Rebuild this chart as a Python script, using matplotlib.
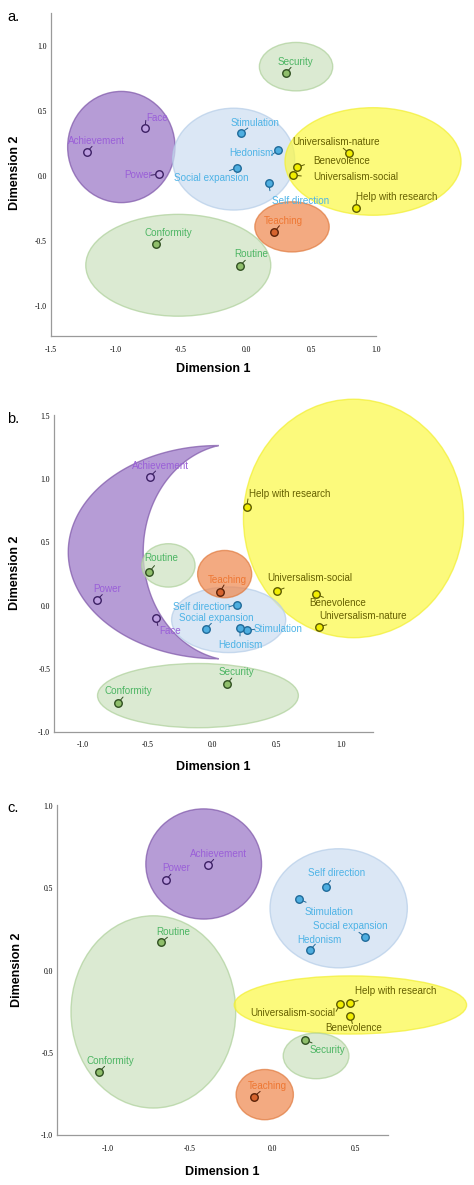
import numpy as np
import matplotlib.pyplot as plt
from matplotlib.patches import Ellipse, Polygon
from matplotlib.ticker import FormatStrFormatter, MultipleLocator

plt.rcParams['font.family'] = ['Liberation Sans', 'DejaVu Sans']
plt.rcParams['axes.unicode_minus'] = False

# group colours: region face, region edge, marker face, marker edge, label
GROUPS = {
    'purple': ('#9772c5', '#7d55a8', '#bea0e1', '#3b1f63', '#9a5fd8'),
    'blue':   ('#cddef1', '#b5cde8', '#4eaee0', '#1f6a99', '#4db3e6'),
    'yellow': ('#fbf845', '#f2ef30', '#f2ee00', '#5c5a00', '#666000'),
    'green':  ('#cde2bf', '#add09a', '#8fbe6b', '#2f4f20', '#4cb563'),
    'orange': ('#ee864c', '#e07a3e', '#d6642e', '#5a2208', '#ee7733'),
}

# ---- panel a ----
a_names = ['Security', 'Face', 'Achievement', 'Power', 'Stimulation', 'Hedonism',
           'Social expansion', 'Self direction', 'Universalism-nature', 'Benevolence',
           'Universalism-social', 'Help with research', 'Teaching', 'Conformity', 'Routine']
a_x = [0.305, -0.777, -1.226, -0.672, -0.036, 0.244, -0.069, 0.174, 0.795, 0.392,
       0.364, 0.849, 0.218, -0.690, -0.049]
a_y = [0.787, 0.364, 0.180, 0.013, 0.331, 0.195, 0.062, -0.054, 0.172, 0.064,
       0.005, -0.249, -0.431, -0.523, -0.692]
a_group = ['green', 'purple', 'purple', 'purple', 'blue', 'blue', 'blue', 'blue',
           'yellow', 'yellow', 'yellow', 'yellow', 'orange', 'green', 'green']
# label offsets in pixels (dx, dy, align)
a_offsets = [(10, 11, 'center'), (1, 10, 'left'), (10, 11, 'center'), (-7, -1, 'right'),
             (14, 10, 'center'), (-4, -3, 'right'), (-26, -10, 'center'), (3, -18, 'left'),
             (-13, 11, 'center'), (16, 6, 'left'), (20, -2, 'left'), (0, 11, 'left'),
             (9, 11, 'center'), (12, 11, 'center'), (12, 12, 'center')]
# regions: group, centre x, centre y, width, height
a_regions = [('green', 0.385, 0.838, 0.564, 0.372),
             ('purple', -0.959, 0.221, 0.826, 0.854),
             ('blue', -0.095, 0.128, 0.938, 0.782),
             ('yellow', 0.977, 0.110, 1.354, 0.826),
             ('orange', 0.354, -0.392, 0.572, 0.385),
             ('green', -0.521, -0.687, 1.423, 0.782)]

# ---- panel b ----
b_names = ['Achievement', 'Help with research', 'Routine', 'Power', 'Face', 'Teaching',
           'Self direction', 'Social expansion', 'Stimulation', 'Hedonism',
           'Universalism-social', 'Benevolence', 'Universalism-nature', 'Security', 'Conformity']
b_x = [-0.481, 0.269, -0.486, -0.894, -0.434, 0.062, 0.191, -0.049, 0.271, 0.217,
       0.501, 0.806, 0.829, 0.116, -0.729]
b_y = [1.021, 0.782, 0.268, 0.042, -0.097, 0.108, 0.008, -0.186, -0.197, -0.178,
       0.115, 0.089, -0.168, -0.625, -0.774]
b_group = ['purple', 'yellow', 'green', 'purple', 'purple', 'orange', 'blue', 'blue',
           'blue', 'blue', 'yellow', 'yellow', 'yellow', 'green', 'green']
b_offsets = [(11, 11, 'center'), (2, 13, 'left'), (12, 14, 'center'), (11, 11, 'center'),
             (3, -13, 'left'), (7, 12, 'center'), (-7, -2, 'right'), (11, 11, 'center'),
             (7, 1, 'left'), (0, -17, 'center'), (33, 13, 'center'), (22, -9, 'center'),
             (44, 11, 'center'), (9, 12, 'center'), (10, 12, 'center')]
b_regions = [('yellow', 1.096, 0.690, 1.705, 1.890),
             ('green', -0.338, 0.318, 0.413, 0.344),
             ('blue', 0.129, -0.113, 0.884, 0.520),
             ('orange', 0.098, 0.249, 0.419, 0.375),
             ('green', -0.109, -0.714, 1.556, 0.509)]
# crescent: outer and inner ellipse (centre x, centre y, semi-axis x, semi-axis y)
b_crescent_outer = (0.049, 0.423, 1.163, 0.845)
b_crescent_inner = (0.191, 0.423, 0.724, 0.861)

# ---- panel c ----
c_names = ['Achievement', 'Power', 'Self direction', 'Stimulation', 'Social expansion',
           'Hedonism', 'Routine', 'Help with research', 'Universalism-social',
           'Benevolence', 'Security', 'Conformity', 'Teaching']
c_x = [-0.390, -0.648, 0.321, 0.158, 0.562, 0.226, -0.675, 0.471, 0.408, 0.471,
       0.194, -1.053, -0.113]
c_y = [0.639, 0.548, 0.508, 0.434, 0.203, 0.124, 0.171, -0.195, -0.205, -0.275,
       -0.420, -0.616, -0.765]
c_group = ['purple', 'purple', 'blue', 'blue', 'blue', 'blue', 'green', 'yellow',
           'yellow', 'yellow', 'green', 'green', 'orange']
c_offsets = [(10, 11, 'center'), (10, 12, 'center'), (11, 14, 'center'), (30, -13, 'center'),
             (-15, 11, 'center'), (9, 10, 'center'), (12, 10, 'center'), (45, 12, 'center'),
             (-5, -9, 'right'), (3, -12, 'center'), (23, -10, 'center'), (11, 11, 'center'),
             (13, 11, 'center')]
c_regions = [('purple', -0.418, 0.647, 0.701, 0.669),
             ('blue', 0.400, 0.378, 0.832, 0.723),
             ('green', -0.723, -0.251, 0.998, 1.167),
             ('yellow', 0.471, -0.209, 1.408, 0.353),
             ('green', 0.263, -0.518, 0.398, 0.277),
             ('orange', -0.048, -0.753, 0.347, 0.305)]


def crescent_polygon(outer, inner):
    ox, oy, oa, ob = outer
    ix, iy, ia, ib = inner
    t = np.radians(np.linspace(90, 270, 120))
    outer_pts = np.column_stack([ox + oa * np.cos(t), oy + ob * np.sin(t)])
    # inner arc runs back up from the bottom tip to the top tip
    tip = np.degrees(np.arcsin(min(ob / ib, 1.0)))
    t2 = np.radians(np.linspace(180 + tip, 180 - tip, 120))
    inner_pts = np.column_stack([ix + ia * np.cos(t2), iy + ib * np.sin(t2)])
    return np.vstack([outer_pts, inner_pts])


def draw_panel(ax, names, xs, ys, groups, offsets, regions, xlim, ylim, xticks, yticks,
               xlab_pos, ylab_pos):
    for g, cx, cy, w, h in regions:
        face, edge = GROUPS[g][0], GROUPS[g][1]
        ax.add_patch(Ellipse((cx, cy), w, h, facecolor=face, edgecolor=edge, alpha=0.7,
                             lw=1.0, clip_on=False, zorder=1))

    for name, x, y, g, (dx, dy, ha) in zip(names, xs, ys, groups, offsets):
        _, _, mface, medge, tcol = GROUPS[g]
        ax.plot(x, y, 'o', ms=5.4, mfc=mface, mec=medge, mew=1.0, zorder=4, clip_on=False)
        n = np.hypot(dx, dy)
        if n > 0:
            ax.annotate('', xy=(x, y), xytext=(dx / n * 8, dy / n * 8),
                        textcoords='offset pixels',
                        arrowprops=dict(arrowstyle='-', color=medge, lw=0.7,
                                        shrinkA=0, shrinkB=2.7), zorder=3)
        ax.annotate(name, xy=(x, y), xytext=(dx, dy), textcoords='offset pixels',
                    ha=ha, va='center', fontsize=7.1, color=tcol, zorder=5)

    ax.set_xlim(*xlim)
    ax.set_ylim(*ylim)
    ax.xaxis.set_major_locator(MultipleLocator(0.5))
    ax.yaxis.set_major_locator(MultipleLocator(0.5))
    ax.set_xticks(xticks)
    ax.set_yticks(yticks)
    ax.xaxis.set_major_formatter(FormatStrFormatter('%.1f'))
    ax.yaxis.set_major_formatter(FormatStrFormatter('%.1f'))
    ax.tick_params(length=0, labelsize=5.5, pad=3)
    ax.tick_params(axis='x', pad=7)
    for lab in ax.get_xticklabels() + ax.get_yticklabels():
        lab.set_family(['Liberation Serif', 'DejaVu Serif'])
    for s in ['top', 'right']:
        ax.spines[s].set_visible(False)
    for s in ['left', 'bottom']:
        ax.spines[s].set_color('#9a9a9a')
        ax.spines[s].set_linewidth(0.9)

    ax.set_xlabel('Dimension 1', fontsize=9, fontweight='bold')
    ax.set_ylabel('Dimension 2', fontsize=9, fontweight='bold')
    ax.xaxis.set_label_coords(*xlab_pos)
    ax.yaxis.set_label_coords(*ylab_pos)
    ax.xaxis.label.set_va('center')
    ax.yaxis.label.set_va('center')


W, H = 474, 1185
fig = plt.figure(figsize=(W / 100, H / 100), dpi=100)

ax_a = fig.add_axes([51 / W, 1 - 336 / H, 325 / W, 323 / H])
draw_panel(ax_a, a_names, a_x, a_y, a_group, a_offsets, a_regions,
           (-1.5, 1.0), (-1.23, 1.25), np.arange(-1.5, 1.01, 0.5), np.arange(-1.0, 1.01, 0.5),
           (0.498, -0.102), (-0.111, 0.505))

ax_b = fig.add_axes([54.3 / W, 1 - 731.7 / H, 318.4 / W, 316.7 / H])
ax_b.add_patch(Polygon(crescent_polygon(b_crescent_outer, b_crescent_inner), closed=True,
                       facecolor=GROUPS['purple'][0], edgecolor=GROUPS['purple'][1],
                       alpha=0.7, lw=1.0, clip_on=False, zorder=1))
draw_panel(ax_b, b_names, b_x, b_y, b_group, b_offsets, b_regions,
           (-1.222, 1.245), (-0.99, 1.51), np.arange(-1.0, 1.01, 0.5), np.arange(-1.0, 1.51, 0.5),
           (0.498, -0.111), (-0.123, 0.501))

ax_c = fig.add_axes([57.3 / W, 1 - 1135.3 / H, 330.4 / W, 330.3 / H])
draw_panel(ax_c, c_names, c_x, c_y, c_group, c_offsets, c_regions,
           (-1.305, 0.697), (-0.985, 1.005), np.arange(-1.0, 0.51, 0.5), np.arange(-1.0, 1.01, 0.5),
           (0.498, -0.111), (-0.122, 0.50))

for letter, ypx in [('a.', 17), ('b.', 419), ('c.', 808)]:
    fig.text(7 / W, 1 - ypx / H, letter, fontsize=10.5, va='center', ha='left')

fig.savefig('out.png', dpi=100)
